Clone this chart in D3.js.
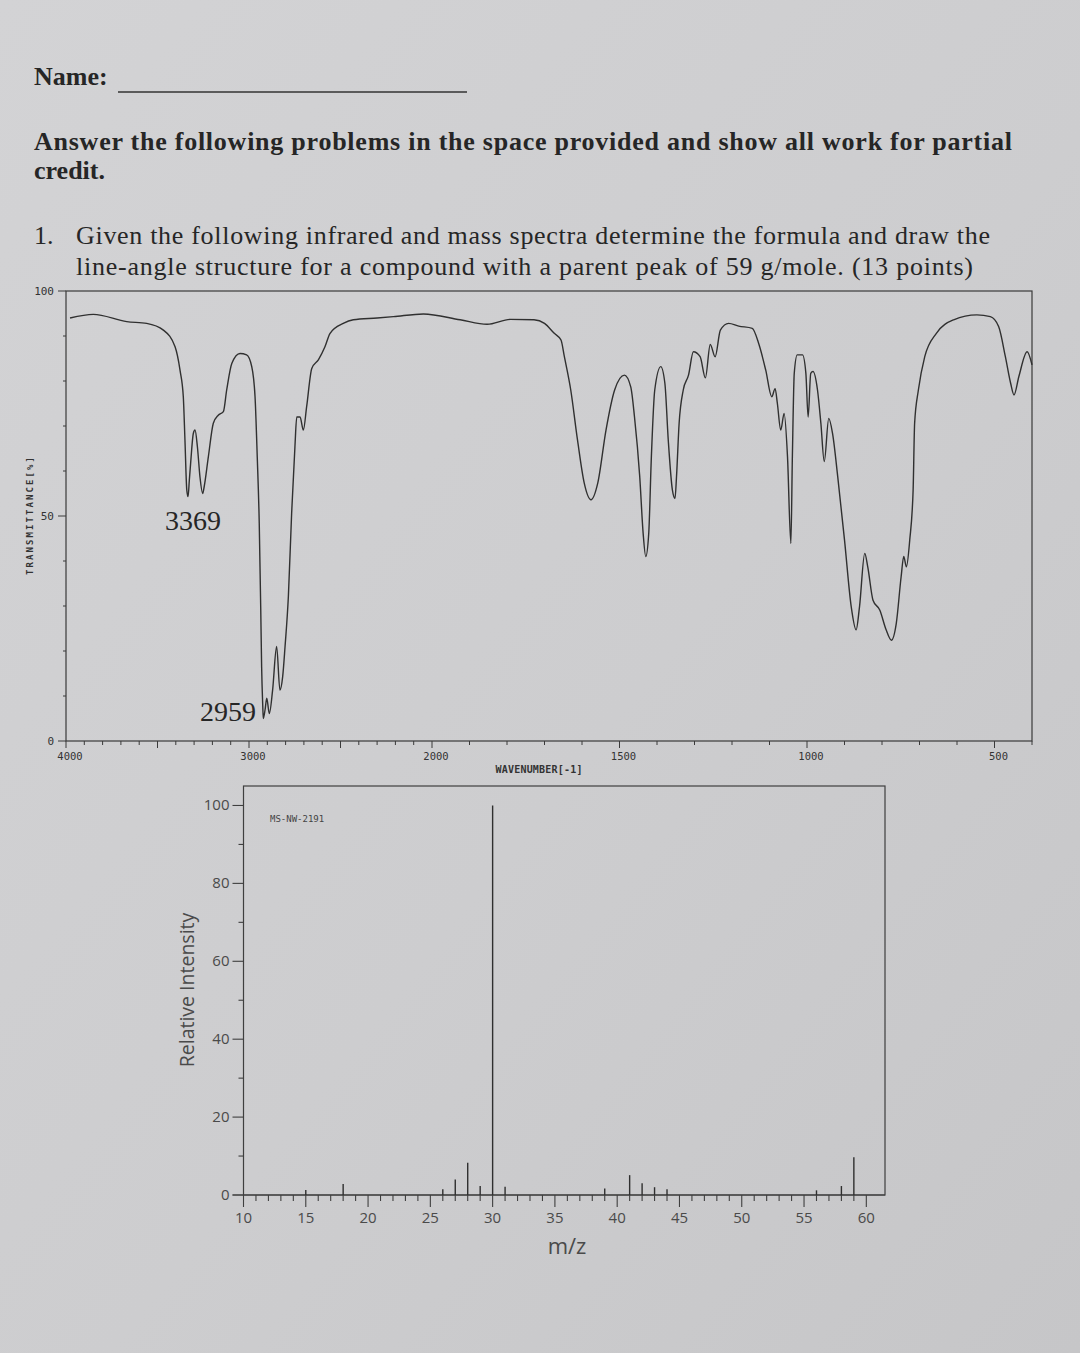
<!DOCTYPE html>
<html>
<head>
<meta charset="utf-8">
<script src="https://cdn.jsdelivr.net/npm/d3@7"></script>
<style>
    html, body { margin: 0; padding: 0; background: #cdcdcf; }
    svg { display: block; }
</style>
</head>
<body>
<svg id="page" width="1080" height="1353"></svg>
<script>
"use strict";

// IR spectrum (wavenumber cm-1, transmittance %)
const irWavenumbers = [3978, 3851, 3668, 3559, 3468, 3404, 3377, 3359, 3350, 3340, 3333, 3326, 3319, 3304, 3295, 3282, 3268, 3253, 3245, 3222,
    3195, 3168, 3140, 3122, 3094, 3049, 3013, 2985, 2967, 2955, 2944, 2936, 2931, 2925, 2922, 2912, 2903, 2889, 2871, 2849,
    2831, 2816, 2803, 2785, 2767, 2749, 2739, 2721, 2703, 2685, 2657, 2621, 2585, 2557, 2485, 2430, 2300, 2211, 2047, 1925,
    1853, 1791, 1728, 1700, 1674, 1656, 1647, 1630, 1612, 1594, 1576, 1558, 1536, 1513, 1487, 1470, 1460, 1446, 1437, 1430,
    1422, 1415, 1406, 1390, 1379, 1370, 1359, 1352, 1348, 1341, 1330, 1316, 1303, 1285, 1271, 1258, 1245, 1231, 1209, 1182,
    1146, 1128, 1110, 1094, 1085, 1079, 1070, 1061, 1052, 1043, 1039, 1034, 1026, 1012, 1003, 997, 990, 984, 972, 963,
    954, 942, 932, 918, 900, 882, 869, 860, 846, 838, 824, 806, 789, 775, 762, 749, 742, 735, 726, 717,
    713, 703, 686, 655, 609, 547, 511, 489, 471, 457, 448, 435, 413, 400];
const irTransmittance = [94, 94.8, 93.2, 92.8, 91.3, 87.6, 82.4, 76.5, 66.9, 55.8, 54.3, 58, 61.7, 68.4, 69.1, 65.4, 58.7, 55.0, 56.5, 63.2,
    70.6, 72.4, 73.2, 78, 83.9, 86.1, 85.8, 83.2, 76.5, 63.2, 48.4, 29.8, 16.5, 8, 5.0, 7, 9.5, 6.1, 11.3, 21,
    11.3, 14.3, 21, 32, 50.6, 65.4, 72, 72, 69.1, 74.3, 82.8, 84.7, 87.6, 90.6, 92.8, 93.6, 94.0, 94.3, 94.9, 93.6,
    92.6, 93.7, 93.6, 92.8, 90.6, 89.1, 85.4, 78, 66.9, 57.3, 53.6, 57.3, 69.1, 78, 81.3, 78.7, 72, 58.7, 46.2, 41,
    46.2, 63.2, 78, 83.2, 79.5, 66.9, 55.8, 53.9, 58.7, 70.6, 78, 81.3, 86.5, 85.4, 80.7, 88.1, 85.4, 91.3, 92.8, 92.2,
    91.7, 88.1, 82.4, 76.5, 78.3, 75, 69.1, 72.8, 63.2, 43.9, 63.2, 81.7, 85.8, 85.8, 81.7, 72, 81.7, 82.1, 78, 70.6,
    62.1, 71.7, 68.4, 58.7, 44.7, 29.8, 24.7, 29.8, 41.7, 38.7, 31.3, 29.1, 24.7, 22.4, 26.1, 36.5, 41, 38.7, 44.7, 55.8,
    70.6, 78, 85.4, 90.6, 93.6, 94.7, 94.3, 92.1, 85.4, 79.5, 76.9, 81, 86.5, 83.6];
const irTickLabels = [4000, 3000, 2000, 1500, 1000, 500];
const irYLabels = [100, 50, 0];
const irPeakLabels = [{ text: "3369", wn: 3459, t: 47 }, { text: "2959", wn: 3268, t: 4.4 }];

// Mass spectrum (m/z, relative intensity)
const msMz = [15, 18, 26, 27, 28, 29, 30, 31, 39, 41, 42, 43, 44, 56, 58, 59];
const msIntensity = [1.3, 2.8, 1.5, 4.0, 8.3, 2.3, 100, 2.1, 1.7, 5.1, 3.0, 2.0, 1.5, 1.2, 2.3, 9.7];
const msXLabels = [10, 15, 20, 25, 30, 35, 40, 45, 50, 55, 60];
const msYLabels = [0, 20, 40, 60, 80, 100];

document.addEventListener("DOMContentLoaded", () => {
    const svg = d3.select("#page");
    const ink = "#262626";
    const serif = "'Liberation Serif', 'Times New Roman', serif";
    const plotter = "'DejaVu Sans Mono', monospace";
    const sans = "'Open Sans', 'Liberation Sans', sans-serif";

    // paper background
    const defs = svg.append("defs");
    const grad = defs.append("linearGradient")
        .attr("id", "paper")
        .attr("x1", "0").attr("y1", "0").attr("x2", "1").attr("y2", "1");
    grad.append("stop").attr("offset", "0%").attr("stop-color", "#d3d3d5");
    grad.append("stop").attr("offset", "55%").attr("stop-color", "#cdcdcf");
    grad.append("stop").attr("offset", "100%").attr("stop-color", "#c6c6c8");
    svg.append("rect").attr("width", 1080).attr("height", 1353).attr("fill", "url(#paper)");

    // ---- worksheet text ----
    svg.append("text")
        .attr("x", 34).attr("y", 85)
        .style("font-family", serif).style("font-size", "26px").style("font-weight", "bold")
        .attr("fill", ink)
        .text("Name:");
    svg.append("line")
        .attr("x1", 118).attr("x2", 467).attr("y1", 92).attr("y2", 92)
        .attr("stroke", "#333").attr("stroke-width", 1.5);

    const intro = ["Answer the following problems in the space provided and show all work for partial", "credit."];
    svg.selectAll("text.intro")
        .data(intro)
        .enter()
        .append("text")
        .attr("class", "intro")
        .attr("x", 34)
        .attr("y", (d, i) => 150 + i * 29)
        .attr("textLength", (d, i) => i === 0 ? 978 : null)
        .style("font-family", serif).style("font-size", "26px").style("font-weight", "bold")
        .attr("fill", ink)
        .text(d => d);

    svg.append("text")
        .attr("x", 34).attr("y", 244)
        .style("font-family", serif).style("font-size", "26px")
        .attr("fill", ink)
        .text("1.");
    const question = [
        "Given the following infrared and mass spectra determine the formula and draw the",
        "line-angle structure for a compound with a parent peak of 59 g/mole.  (13 points)"
    ];
    svg.selectAll("text.question")
        .data(question)
        .enter()
        .append("text")
        .attr("class", "question")
        .attr("x", 76)
        .attr("y", (d, i) => 244 + i * 31)
        .attr("textLength", (d, i) => i === 0 ? 914 : 897)
        .style("font-family", serif).style("font-size", "26px")
        .attr("fill", ink)
        .text(d => d);

    // ---- IR spectrum ----
    const irX = d3.scaleLinear().domain([4000, 2000, 400]).range([66, 432, 1032]);
    const irY = d3.scaleLinear().domain([0, 100]).range([741, 291]);
    const ir = svg.append("g").attr("class", "ir");

    ir.append("rect")
        .attr("x", irX(4000)).attr("y", irY(100))
        .attr("width", irX(400) - irX(4000)).attr("height", irY(0) - irY(100))
        .attr("fill", "none").attr("stroke", "#3a3a3a").attr("stroke-width", 1.2);

    // y ticks every 10 %
    ir.selectAll("line.ytick")
        .data(d3.range(0, 101, 10))
        .enter()
        .append("line")
        .attr("class", "ytick")
        .attr("x1", d => irX(4000) - (d % 50 === 0 ? 8 : 3))
        .attr("x2", irX(4000))
        .attr("y1", d => irY(d)).attr("y2", d => irY(d))
        .attr("stroke", "#3a3a3a").attr("stroke-width", 1);

    ir.selectAll("text.ylab")
        .data(irYLabels)
        .enter()
        .append("text")
        .attr("class", "ylab")
        .attr("x", irX(4000) - 12)
        .attr("y", d => irY(d) + 4)
        .attr("text-anchor", "end")
        .style("font-family", plotter).style("font-size", "11px")
        .attr("fill", "#333")
        .text(d => d);

    // x ticks every 100 cm-1
    const irTicks = d3.range(4000, 399, -100);
    ir.selectAll("line.xtick")
        .data(irTicks)
        .enter()
        .append("line")
        .attr("class", "xtick")
        .attr("x1", d => irX(d)).attr("x2", d => irX(d))
        .attr("y1", irY(0))
        .attr("y2", d => irY(0) + (d % 500 === 0 ? 7 : 4))
        .attr("stroke", "#3a3a3a").attr("stroke-width", 1);

    ir.selectAll("text.xlab")
        .data(irTickLabels)
        .enter()
        .append("text")
        .attr("class", "xlab")
        .attr("x", d => irX(d) + 4)
        .attr("y", irY(0) + 19)
        .attr("text-anchor", "middle")
        .style("font-family", plotter).style("font-size", "10.5px")
        .attr("fill", "#333")
        .text(d => d);

    ir.append("text")
        .attr("x", 539).attr("y", 773)
        .attr("text-anchor", "middle")
        .attr("textLength", 87)
        .style("font-family", plotter).style("font-size", "10px").style("font-weight", "bold")
        .attr("fill", "#333")
        .text("WAVENUMBER[-1]");

    ir.append("text")
        .attr("transform", `translate(33, ${irY(50)}) rotate(-90)`)
        .attr("text-anchor", "middle")
        .attr("textLength", 118)
        .style("font-family", plotter).style("font-size", "9px").style("font-weight", "bold")
        .attr("fill", "#333")
        .text("TRANSMITTANCE[%]");

    const irLine = d3.line()
        .curve(d3.curveMonotoneX)
        .x(d => irX(d[0]))
        .y(d => irY(d[1]));

    ir.append("path")
        .datum(d3.zip(irWavenumbers, irTransmittance))
        .attr("d", irLine)
        .attr("fill", "none")
        .attr("stroke", "#303030")
        .attr("stroke-width", 1.4);

    ir.selectAll("text.peak")
        .data(irPeakLabels)
        .enter()
        .append("text")
        .attr("class", "peak")
        .attr("x", d => irX(d.wn))
        .attr("y", d => irY(d.t))
        .style("font-family", serif).style("font-size", "28px")
        .attr("fill", ink)
        .text(d => d.text);

    // ---- Mass spectrum ----
    const msX = d3.scaleLinear().domain([10, 61.5]).range([243.5, 885]);
    const msY = d3.scaleLinear().domain([0, 105]).range([1195, 786]);
    const ms = svg.append("g").attr("class", "ms");

    ms.append("rect")
        .attr("x", msX(10)).attr("y", msY(105))
        .attr("width", msX(61.5) - msX(10)).attr("height", msY(0) - msY(105))
        .attr("fill", "none").attr("stroke", "#3f3f3f").attr("stroke-width", 1.2);

    ms.append("line")
        .attr("x1", msX(10) - 11).attr("x2", msX(61.5))
        .attr("y1", msY(0)).attr("y2", msY(0))
        .attr("stroke", "#3f3f3f").attr("stroke-width", 1.2);

    ms.selectAll("line.ytick")
        .data(d3.range(0, 101, 10))
        .enter()
        .append("line")
        .attr("class", "ytick")
        .attr("x1", d => msX(10) - (d % 20 === 0 ? 11 : 5))
        .attr("x2", msX(10))
        .attr("y1", d => msY(d)).attr("y2", d => msY(d))
        .attr("stroke", "#3f3f3f").attr("stroke-width", 1.1);

    ms.selectAll("text.ylab")
        .data(msYLabels)
        .enter()
        .append("text")
        .attr("class", "ylab")
        .attr("x", msX(10) - 14)
        .attr("y", d => msY(d) + 5)
        .attr("text-anchor", "end")
        .style("font-family", sans).style("font-size", "15px")
        .attr("fill", "#4a4a4a")
        .text(d => d);

    ms.selectAll("line.xtick")
        .data(d3.range(10, 61, 1))
        .enter()
        .append("line")
        .attr("class", "xtick")
        .attr("x1", d => msX(d)).attr("x2", d => msX(d))
        .attr("y1", msY(0))
        .attr("y2", d => msY(0) + (d % 5 === 0 ? 12 : 6))
        .attr("stroke", "#3f3f3f").attr("stroke-width", 1.1);

    ms.selectAll("text.xlab")
        .data(msXLabels)
        .enter()
        .append("text")
        .attr("class", "xlab")
        .attr("x", d => msX(d))
        .attr("y", msY(0) + 28)
        .attr("text-anchor", "middle")
        .style("font-family", sans).style("font-size", "15px")
        .attr("fill", "#4a4a4a")
        .text(d => d);

    ms.append("text")
        .attr("x", 567).attr("y", 1254)
        .attr("text-anchor", "middle")
        .style("font-family", sans).style("font-size", "22px")
        .attr("fill", "#4a4a4a")
        .text("m/z");

    ms.append("text")
        .attr("transform", "translate(194, 990) rotate(-90)")
        .attr("text-anchor", "middle")
        .style("font-family", sans).style("font-size", "19.5px")
        .attr("fill", "#4a4a4a")
        .text("Relative Intensity");

    ms.append("text")
        .attr("x", 270).attr("y", 822)
        .style("font-family", plotter).style("font-size", "9px")
        .attr("fill", "#444")
        .text("MS-NW-2191");

    ms.selectAll("line.peak")
        .data(d3.zip(msMz, msIntensity))
        .enter()
        .append("line")
        .attr("class", "peak")
        .attr("x1", d => msX(d[0])).attr("x2", d => msX(d[0]))
        .attr("y1", msY(0))
        .attr("y2", d => msY(d[1]))
        .attr("stroke", "#2f2f2f")
        .attr("stroke-width", 1.4);
});
</script>
</body>
</html>
